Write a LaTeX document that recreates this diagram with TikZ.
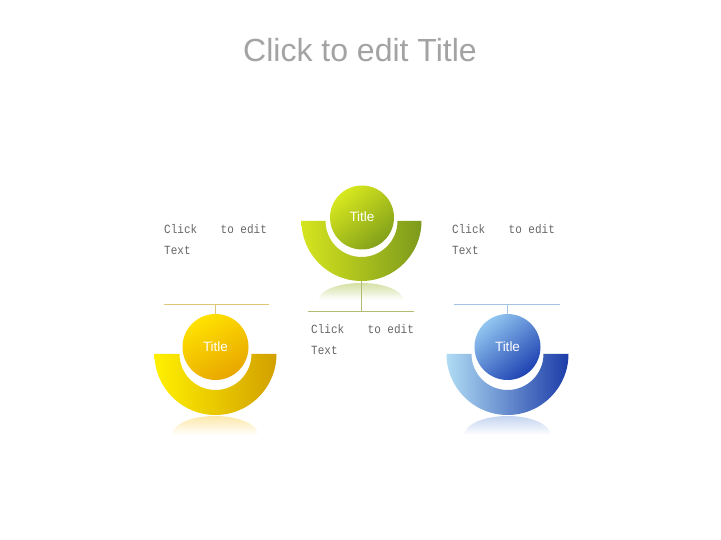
\documentclass[tikz,border=0pt]{standalone}
\usepackage{fontspec}
\setmainfont{Liberation Sans}
\newfontfamily\monofont[FakeStretch=0.88]{Liberation Mono}
\begin{document}
\begin{tikzpicture}[x=1pt,y=1pt,
  ttl/.style={font=\fontsize{32}{36}\selectfont, text=black!36, inner sep=0pt},
  body/.style={font=\monofont\fontsize{12.5}{14}\selectfont, text=black!60, inner sep=0pt, anchor=base west},
  ctitle/.style={font=\fontsize{13.5}{15}\selectfont, text=white, inner sep=0pt},
  conn/.style={line width=0.8pt}]
\useasboundingbox (0,0) rectangle (721,540);
\fill[white] (0,0) rectangle (721,540);

\definecolor{gL}{HTML}{D6E41E}\definecolor{gR}{HTML}{7C9A1C}
\definecolor{gT}{HTML}{D8E81E}\definecolor{gB}{HTML}{82A01A}
\definecolor{gLn}{HTML}{B4BC74}\definecolor{gRf}{HTML}{D4E0A4}
\definecolor{yL}{HTML}{FFF000}\definecolor{yM}{HTML}{FFC400}\definecolor{yR}{HTML}{D2A000}
\definecolor{yT}{HTML}{FFE200}\definecolor{yB}{HTML}{E8A600}
\definecolor{yLn}{HTML}{E0C478}\definecolor{yRf}{HTML}{FCE8A8}
\definecolor{bL}{HTML}{B0DCF4}\definecolor{bM}{HTML}{5A8EDC}\definecolor{bR}{HTML}{1C3CA8}
\definecolor{bT}{HTML}{92C6F0}\definecolor{bB}{HTML}{1E42B2}
\definecolor{bLn}{HTML}{A4C2E2}\definecolor{bRf}{HTML}{C4D4F0}

\node[ttl, anchor=base] (title) at (360,478.3) {Click to edit Title};

% ---------- green (centre) ----------
\shade[top color=gRf, bottom color=white] (319,240) arc[start angle=180,end angle=0,x radius=42,y radius=17] -- cycle;
\shade[left color=gL, right color=gR] (301.5,319) arc[start angle=180,end angle=360,radius=60] -- (397.5,319) arc[start angle=0,end angle=-180,radius=36] -- cycle;
\shade[top color=gT, bottom color=gB, shading angle=40] (362,322.5) circle (32);
\node[ctitle] (gt) at (362,323) {Title};
\coordinate (gbot) at (361.5,259);
\coordinate (gj) at (361.5,229);
\coordinate (gl) at (308,229);
\coordinate (gr) at (414,229);
\draw[conn, gLn] (gbot) -- (gj);
\draw[conn, gLn] (gl) -- (gr);
\node[body] (gtx1) at (311,206.7) {Click\hspace{23.5pt}to edit};
\node[body] (gtx2) at (311,185.7) {Text};

% ---------- yellow (left) ----------
\shade[top color=yRf, bottom color=white] (172,105) arc[start angle=180,end angle=0,x radius=43,y radius=19] -- cycle;
\shade[left color=yL, middle color=yM, right color=yR] (154.5,186) arc[start angle=180,end angle=360,radius=61] -- (251.5,186) arc[start angle=0,end angle=-180,radius=36] -- cycle;
\shade[top color=yT, bottom color=yB, shading angle=30] (215.5,193) circle (33);
\node[ctitle] (yt) at (215.5,193) {Title};
\coordinate (ytop) at (215.5,226);
\coordinate (yj) at (215.5,236);
\coordinate (yl) at (164,236);
\coordinate (yr) at (269,236);
\draw[conn, yLn] (ytop) -- (yj);
\draw[conn, yLn] (yl) -- (yr);
\node[body] (ytx1) at (164,306.7) {Click\hspace{23.5pt}to edit};
\node[body] (ytx2) at (164,285.7) {Text};

% ---------- blue (right) ----------
\shade[top color=bRf, bottom color=white] (464.5,105) arc[start angle=180,end angle=0,x radius=43,y radius=19] -- cycle;
\shade[left color=bL, middle color=bM, right color=bR] (446.5,186) arc[start angle=180,end angle=360,radius=61] -- (543.5,186) arc[start angle=0,end angle=-180,radius=36] -- cycle;
\shade[top color=bT, bottom color=bB, shading angle=40] (507.5,193) circle (33);
\node[ctitle] (bt) at (507.5,193) {Title};
\coordinate (btop) at (507.5,226);
\coordinate (bj) at (507.5,236);
\coordinate (bl) at (454,236);
\coordinate (br) at (560,236);
\draw[conn, bLn] (btop) -- (bj);
\draw[conn, bLn] (bl) -- (br);
\node[body] (btx1) at (452,306.7) {Click\hspace{23.5pt}to edit};
\node[body] (btx2) at (452,285.7) {Text};
\end{tikzpicture}
\end{document}
